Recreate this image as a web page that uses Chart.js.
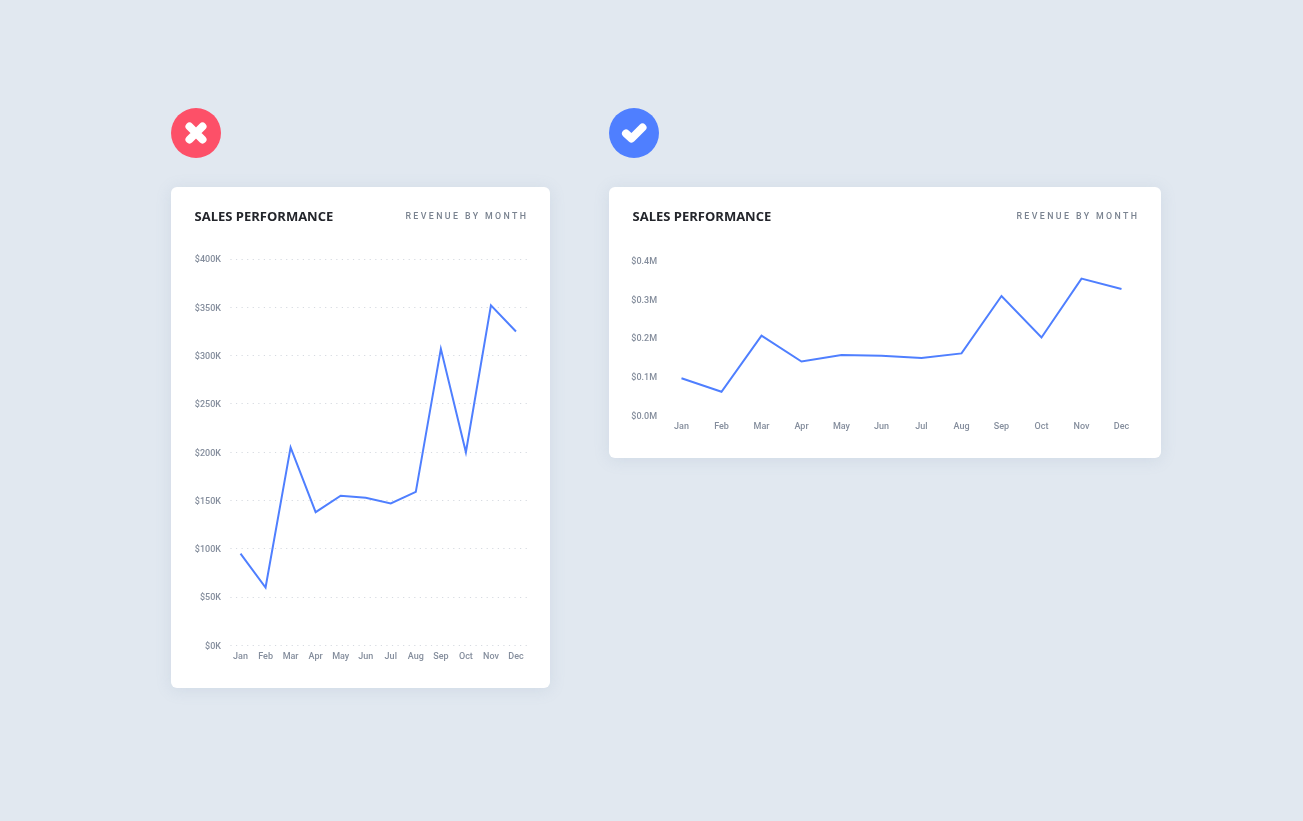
<!DOCTYPE html>
<html><head><meta charset="utf-8">
<script src="https://cdn.jsdelivr.net/npm/chart.js@4"></script>
<style>
html,body{margin:0;padding:0;width:1303px;height:821px;overflow:hidden;background:#e1e8f0;}
.card{position:absolute;background:#fff;border-radius:6px;box-shadow:0 2px 16px rgba(120,140,175,.16);}
.card canvas{position:absolute;left:0;top:0;}
.t{position:absolute;top:19.5px;left:23.5px;font:700 13px "Open Sans","Noto Sans",sans-serif;color:#23252b;line-height:18px;white-space:nowrap;}
.s{position:absolute;top:22px;right:21.5px;font:500 8.8px Roboto,sans-serif;letter-spacing:2.4px;color:#7a8390;line-height:14px;white-space:nowrap;}
.icon{position:absolute;top:108px;width:50px;height:50px;}
</style></head><body>
<svg class="icon" style="left:171px" viewBox="0 0 50 50"><circle cx="25" cy="25" r="25" fill="#fd5068"/><path d="M18.5 18.5L31.5 31.5M31.5 18.5L18.5 31.5" stroke="#fff" stroke-width="8" stroke-linecap="round"/></svg>
<svg class="icon" style="left:609px" viewBox="0 0 50 50"><circle cx="25" cy="25" r="25" fill="#4f7fff"/><path d="M17 25.5L22.5 30.5L33.5 19.5" fill="none" stroke="#fff" stroke-width="8" stroke-linecap="round" stroke-linejoin="round"/></svg>
<div class="card" style="left:171px;top:187px;width:379px;height:501px"><canvas id="a" width="379" height="501"></canvas><div class="t">SALES PERFORMANCE</div><div class="s">REVENUE BY MONTH</div></div>
<div class="card" style="left:609px;top:187px;width:552px;height:271px"><canvas id="b" width="552" height="271"></canvas><div class="t">SALES PERFORMANCE</div><div class="s">REVENUE BY MONTH</div></div>
<script>
const months=["Jan","Feb","Mar","Apr","May","Jun","Jul","Aug","Sep","Oct","Nov","Dec"];
const revenueK=[95,60,205,138,155,153,147,159,307,200,352,325];
const revenueM=[0.095,0.06,0.205,0.138,0.155,0.153,0.147,0.159,0.307,0.2,0.352,0.325];
const tickFont={family:"Roboto",size:9,weight:"500"};
function make(id,values,o){
 new Chart(document.getElementById(id),{type:"line",
  data:{labels:months,datasets:[{data:values,borderColor:"#4f7fff",borderWidth:2,pointRadius:0,tension:0,fill:false,borderCapStyle:"butt",borderJoinStyle:"miter"}]},
  options:{responsive:false,animation:false,events:[],
   layout:{padding:{top:o.top,right:o.right,left:0,bottom:0}},
   plugins:{legend:{display:false},tooltip:{enabled:false},title:{display:false}},
   scales:{
    x:{offset:true,border:{display:false},grid:{display:false,drawTicks:false},
       ticks:{color:"#858e9d",font:tickFont,padding:o.xpad,maxRotation:0,autoSkip:false},
       afterFit(s){s.height=o.xh;}},
    y:{min:0,max:o.max,border:{display:false,dash:[1.2,4.37],dashOffset:-2.4},
       grid:{display:o.grid,drawTicks:false,color:"#d6dae0",lineWidth:1},
       ticks:{stepSize:o.step,color:"#858e9d",font:tickFont,padding:o.ypad,labelOffset:o.lo,callback:o.fmt},
       afterFit(s){s.width=o.yw;}}
   }}});
}
make("a",revenueK,{top:72,right:21.5,xh:42.5,yw:57,max:400,step:50,grid:true,xpad:6,ypad:7,lo:1,fmt:v=>"$"+v+"K"});
make("b",revenueM,{top:73,right:19.5,xh:43,yw:52.5,max:0.4,step:0.1,grid:false,xpad:6,ypad:4.5,lo:1.5,fmt:v=>"$"+v.toFixed(1)+"M"});
</script>
</body></html>
